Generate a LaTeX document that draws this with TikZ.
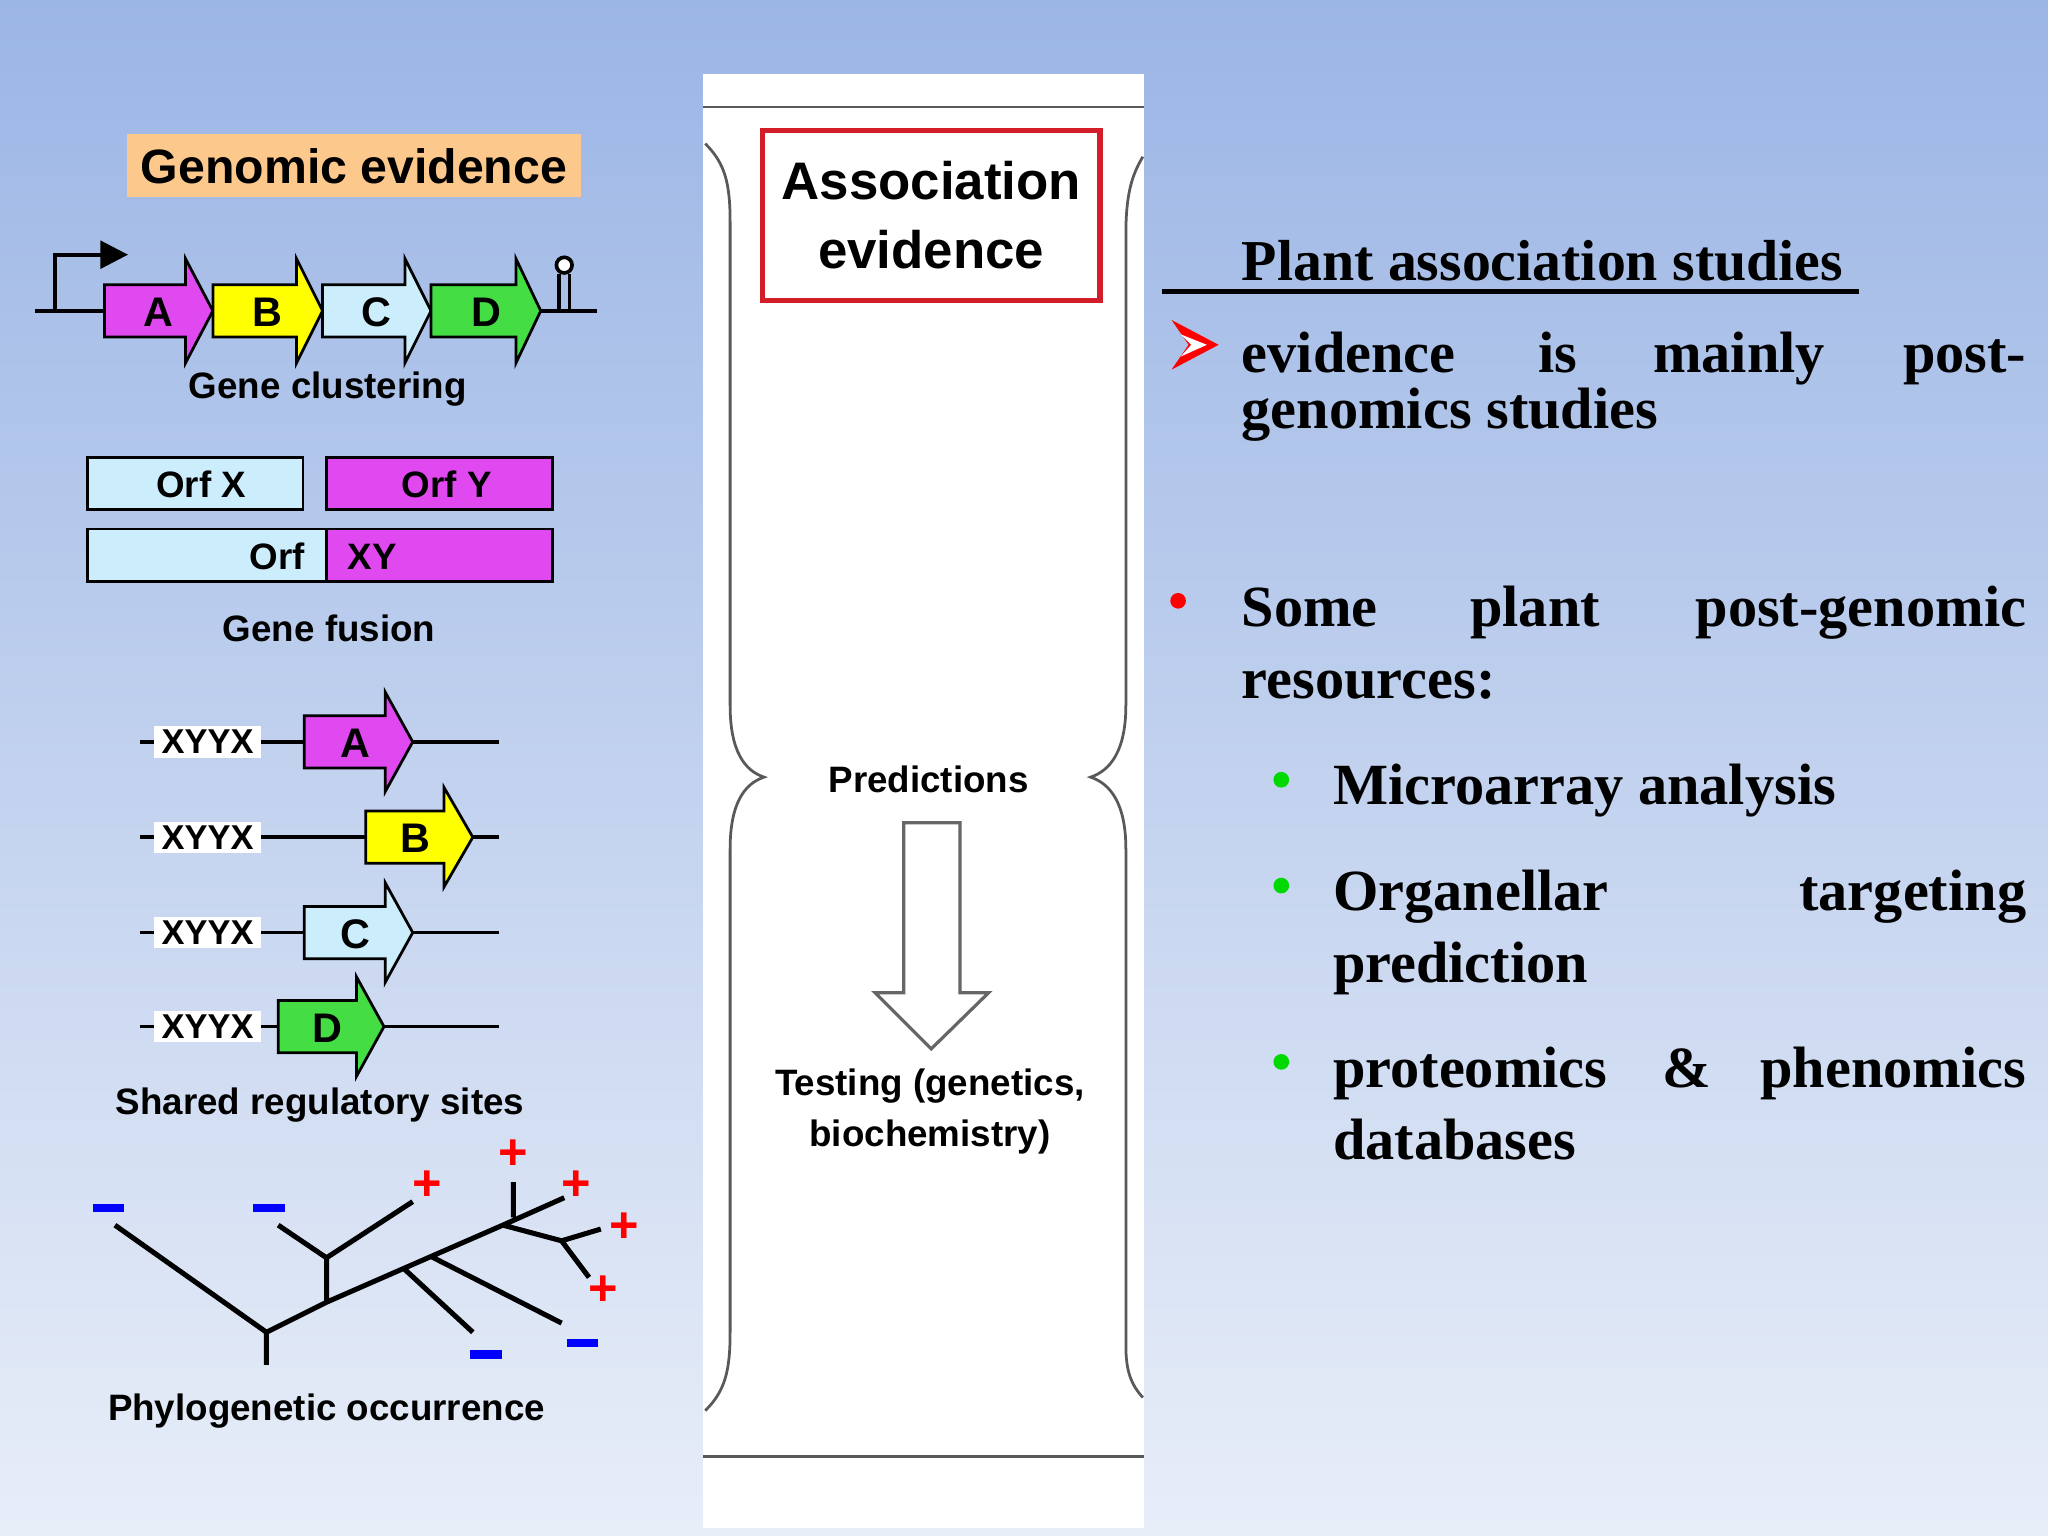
\documentclass[tikz,border=0pt]{standalone}
\usepackage{fontspec}
\setmainfont{Liberation Serif}
\newfontfamily\sans{Liberation Sans}
\usetikzlibrary{arrows.meta}
\definecolor{cA}{RGB}{224,72,240}
\definecolor{cB}{RGB}{255,255,0}
\definecolor{cC}{RGB}{204,238,252}
\definecolor{cD}{RGB}{68,221,68}
\definecolor{bgtop}{RGB}{155,181,229}
\definecolor{bgbot}{RGB}{232,238,248}
\definecolor{orng}{RGB}{252,200,140}
\definecolor{bred}{RGB}{210,30,40}
\begin{document}
\begin{tikzpicture}[x=0.01cm,y=-0.01cm,
 gen/.style={draw,line width=0.6pt},
 lbl/.style={font=\sans\bfseries\fontsize{8}{9}\selectfont},
 big/.style={font=\bfseries\fontsize{12.7}{14}\selectfont,anchor=base west,inner sep=0},
 pm/.style={font=\sans\bfseries\fontsize{11}{11}\selectfont,inner sep=0}]
\shade[top color=bgtop,bottom color=bgbot] (0,0) rectangle (1568,1176);
\useasboundingbox (0,0) rectangle (1568,1176);
% left title
\node[fill=orng,inner sep=3pt,font=\sans\bfseries\fontsize{10.5}{12}\selectfont] (ge) at (271,127) {Genomic evidence};
% gene clustering
\draw[line width=0.8pt] (27,238) -- (457,238);
\draw[line width=0.8pt,-{Triangle[length=6pt,width=6pt]}] (42,238) -- (42,195) -- (98,195);
\foreach \a/\b/\t/\c/\n in {80/142/163/cA/A,163/227/247/cB/B,247/310/330/cC/C,330/395/414/cD/D}{
 \draw[gen,fill=\c] (\a,218) -- (\b,218) -- (\b,198) -- (\t,238) -- (\b,278) -- (\b,258) -- (\a,258) -- cycle;
 \node[font=\sans\bfseries\fontsize{9}{9}\selectfont] at ({(\a+\b)/2+10},239) {\n};}
\draw[line width=0.8pt] (428,238) -- (428,210) (436,238) -- (436,210);
\draw[line width=0.8pt,fill=white] (432,203) circle (6);
\node[lbl] (gc) at (251,298) {Gene clustering};
% gene fusion
\draw[gen,fill=cC] (67,350) rectangle (232,390);
\node[lbl] at (154,371) {Orf X};
\draw[gen,fill=cA] (250,350) rectangle (423,390);
\node[lbl] at (342,371) {Orf Y};
\draw[gen,fill=cC] (67,405) rectangle (250,445);
\draw[gen,fill=cA] (250,405) rectangle (423,445);
\node[lbl,anchor=east] at (246,426) {Orf};
\node[lbl,anchor=west] at (254,426) {XY};
\node[lbl] (gf) at (252,481) {Gene fusion};
% shared regulatory
\foreach \y/\a/\b/\t/\c/\n in {568/233/295/316/cA/A,641/280/340/362/cB/B,714/233/295/316/cC/C,786/213/273/294/cD/D}{
 \draw[line width=0.8pt] (107,\y) -- (382,\y);
 \node[fill=white,minimum width=0.82cm,minimum height=0.24cm,inner sep=0,font=\sans\bfseries\fontsize{7.5}{9}\selectfont] at (159,\y) {XYYX};
 \draw[gen,fill=\c] (\a,\y-20) -- (\b,\y-20) -- (\b,\y-38) -- (\t,\y) -- (\b,\y+38) -- (\b,\y+20) -- (\a,\y+20) -- cycle;
 \node[font=\sans\bfseries\fontsize{9}{9}\selectfont] at ({(\a+\b)/2+8},\y+1) {\n};}
\node[lbl] (sr) at (245,846) {Shared regulatory sites};
% phylogeny
\draw[line width=1.1pt]
 (204,1045) -- (204,1020) (88,938) -- (204,1020) -- (250,997) -- (330,962) -- (385,938) -- (430,950)
 (250,997) -- (250,963) (213,938) -- (250,963) -- (316,920)
 (310,972) -- (362,1020) (330,962) -- (430,1013)
 (393,932) -- (393,905) (385,938) -- (432,917) (430,950) -- (460,941) (430,950) -- (451,978);
\foreach \x/\y in {83/925,206/925,372/1037,446/1028}\draw[blue,line width=1.8pt] (\x-12,\y) -- (\x+12,\y);
\foreach \x/\y in {327/908,393/884,441/908,478/940,462/988}\node[pm,text=red] at (\x,\y) {+};
\node[lbl] (po) at (250,1080) {Phylogenetic occurrence};
% center panel
\fill[white] (538,57) rectangle (876,1170);
\draw[gray!70!black,line width=0.6pt] (538,82) -- (876,82) (538,1115) -- (876,1115);
\draw[gray!70!black,line width=0.6pt] (540,110) .. controls (555,125) and (559,140) .. (559,170) -- (559,540) .. controls (559,575) and (570,590) .. (585,595) .. controls (570,600) and (559,615) .. (559,650) -- (559,1020) .. controls (559,1050) and (555,1065) .. (540,1080);
\draw[gray!70!black,line width=0.6pt] (875,120) .. controls (866,135) and (862,150) .. (862,180) -- (862,540) .. controls (862,575) and (850,590) .. (835,595) .. controls (850,600) and (862,615) .. (862,650) -- (862,1030) .. controls (862,1050) and (866,1060) .. (875,1070);
\node[draw=bred,line width=1.2pt,minimum width=2.58cm,minimum height=1.3cm,align=center,font=\sans\bfseries\fontsize{11.5}{15}\selectfont] (ae) at (713,165) {Association\\evidence};
\node[font=\sans\bfseries\fontsize{8}{9}\selectfont] (pr) at (711,597) {Predictions};
\draw[gray!80!black,line width=0.7pt,fill=white] (692,630) -- (735,630) -- (735,760) -- (757,760) -- (713,803) -- (670,760) -- (692,760) -- cycle;
\node[align=center,font=\sans\bfseries\fontsize{8}{11}\selectfont] (te) at (712,851) {Testing (genetics,\\biochemistry)};
% right text
\node[big,font=\bfseries\fontsize{12.6}{14}\selectfont] (pas) at (950,215) {Plant association studies};
\draw[line width=1pt] (890,223) -- (1423,223);
\fill[red] (897,245) -- (933,264) -- (897,283) -- (910,264) -- cycle;
\fill[white] (904,256) -- (924,264) -- (904,273) -- (912,264) -- cycle;
\node[big] at (950,285) {evidence};
\node[big] at (1177,285) {is};
\node[big] at (1265,285) {mainly};
\node[big,anchor=base east] at (1552,285) {post-};
\node[big] at (950,328) {genomics studies};
\fill[red] (902,460) circle (6);
\node[big] at (950,480) {Some};
\node[big] at (1125,480) {plant};
\node[big,anchor=base east] at (1552,480) {post-genomic};
\node[big] at (950,535) {resources:};
\foreach \y in {597,678,813}\fill[green!85!black] (981,\y) circle (6);
\node[big] at (1020,616) {Microarray analysis};
\node[big] at (1020,697) {Organellar};
\node[big,anchor=base east] at (1552,697) {targeting};
\node[big] at (1020,752) {prediction};
\node[big] at (1020,833) {proteomics};
\node[big] at (1272,833) {\&};
\node[big,anchor=base east] at (1552,833) {phenomics};
\node[big] at (1020,888) {databases};
\end{tikzpicture}
\end{document}
